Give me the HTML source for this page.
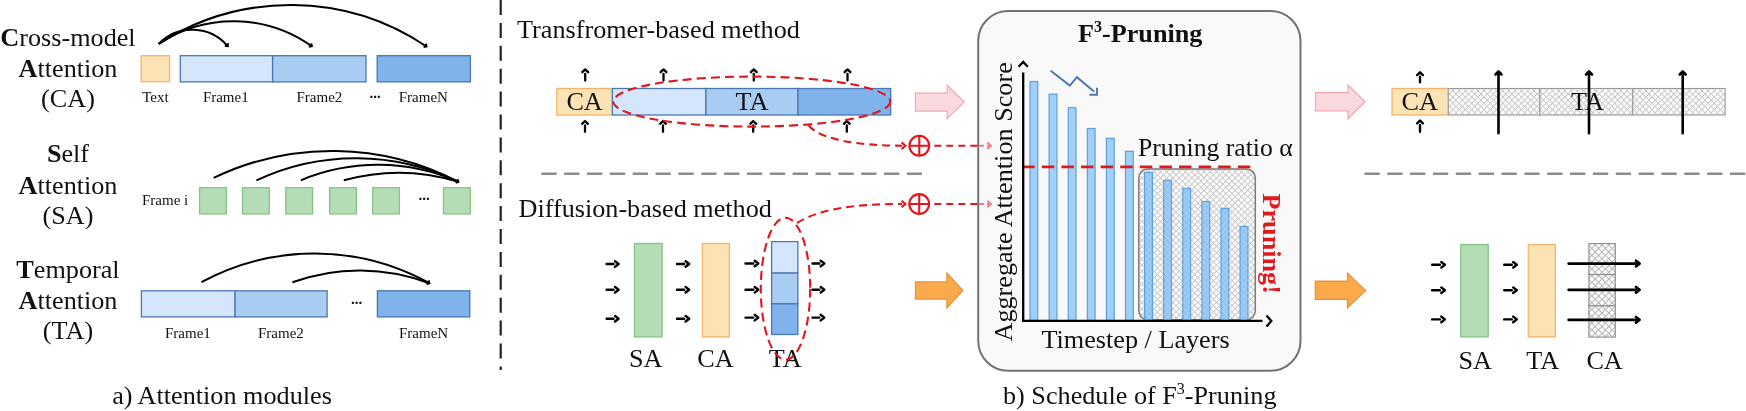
<!DOCTYPE html>
<html><head><meta charset="utf-8">
<style>
html,body{margin:0;padding:0;background:#fff;}
body{width:1746px;height:411px;overflow:hidden;}
svg{display:block;will-change:transform;}
text{font-family:"Liberation Serif","Times New Roman",serif;fill:#111;}
.b{font-weight:bold;}
</style></head><body>
<svg width="1746" height="411" viewBox="0 0 1746 411">
<defs>
<pattern id="hatch" width="4.4" height="4.4" patternUnits="userSpaceOnUse" patternTransform="rotate(45)">
<rect width="4.4" height="4.4" fill="#fdfdfd"/>
<path d="M0 0H4.4M0 0V4.4" stroke="#c6c6c6" stroke-width="1.8"/>
</pattern>
<pattern id="hatch2" width="4.8" height="4.8" patternUnits="userSpaceOnUse" patternTransform="rotate(45)">
<rect width="4.8" height="4.8" fill="#fbfbfb"/>
<path d="M0 0H4.8M0 0V4.8" stroke="#b5b5b5" stroke-width="1.9"/>
</pattern>
<pattern id="hatchT" width="4.4" height="4.4" patternUnits="userSpaceOnUse" patternTransform="rotate(45)">
<rect width="4.4" height="4.4" fill="#fdfdfd"/>
<path d="M0 0H4.4M0 0V4.4" stroke="#c6c6c6" stroke-width="1.9"/>
</pattern>
<pattern id="hatchW" width="4.3" height="4.3" patternUnits="userSpaceOnUse" patternTransform="rotate(45)">
<path d="M0 0H4.3M0 0V4.3" stroke="#ffffff" stroke-opacity="0.22" stroke-width="1.2"/>
</pattern>
<marker id="hk" markerWidth="6" markerHeight="6" refX="3" refY="3" orient="auto" markerUnits="userSpaceOnUse">
<path d="M1 0.5 L3.5 3 L1 5.5" fill="none" stroke="#000" stroke-width="1.6"/>
</marker>
</defs>

<!-- ============ LEFT PANEL ============ -->
<g font-size="26.2" text-anchor="middle">
<text x="68" y="45.6"><tspan class="b">C</tspan>ross-model</text>
<text x="68" y="76.5"><tspan class="b">A</tspan>ttention</text>
<text x="68" y="107.4">(CA)</text>
<text x="68" y="162.4"><tspan class="b">S</tspan>elf</text>
<text x="68" y="194"><tspan class="b">A</tspan>ttention</text>
<text x="68" y="224">(SA)</text>
<text x="68" y="278.2"><tspan class="b">T</tspan>emporal</text>
<text x="68" y="308.8"><tspan class="b">A</tspan>ttention</text>
<text x="68" y="339.3">(TA)</text>
</g>

<!-- CA row -->
<rect x="141.2" y="55.7" width="28.4" height="26" fill="#FCE3B6" stroke="#F2B56A" stroke-width="1.3"/>
<rect x="180.3" y="55.7" width="92.3" height="26.2" fill="#D5E6FA" stroke="#4A77B0" stroke-width="1.3"/>
<rect x="272.6" y="55.7" width="93.4" height="26.2" fill="#A9CCF2" stroke="#4A77B0" stroke-width="1.3"/>
<rect x="377.2" y="55.7" width="93.2" height="26.2" fill="#80B3EC" stroke="#4A77B0" stroke-width="1.3"/>
<g font-size="15" text-anchor="middle">
<text x="155.4" y="101.5">Text</text>
<text x="225.8" y="101.5">Frame1</text>
<text x="319.4" y="101.5">Frame2</text>
<text x="375" y="97.8" class="b">...</text>
<text x="423.3" y="101.5">FrameN</text>
</g>
<g fill="none" stroke="#000" stroke-width="2">
<path d="M158.7 43.9 A46.7 46.7 0 0 1 227.8 46.3"/>
<path d="M228.0 43.3 L227.8 46.3 L224.8 46.1" stroke-width="2"/>
<path d="M158.7 43.9 A134.9 134.9 0 0 1 311.8 46.3"/>
<path d="M311.3 43.3 L311.8 46.3 L308.8 46.8" stroke-width="2"/>
<path d="M158.7 43.9 A243.3 243.3 0 0 1 426.5 46.5"/>
<path d="M425.9 43.6 L426.5 46.5 L423.6 47.1" stroke-width="2"/>
</g>

<!-- SA row -->
<text x="142" y="205.4" font-size="15">Frame i</text>
<g fill="#B5DDB5" stroke="#86C486" stroke-width="1.3">
<rect x="199.6" y="187.7" width="26.8" height="26.2"/>
<rect x="242.5" y="187.7" width="26.8" height="26.2"/>
<rect x="285.8" y="187.7" width="26.8" height="26.2"/>
<rect x="329.6" y="187.7" width="26.8" height="26.2"/>
<rect x="372.6" y="187.7" width="26.8" height="26.2"/>
<rect x="443.5" y="187.7" width="26.8" height="26.2"/>
</g>
<text x="424" y="199.8" font-size="15" text-anchor="middle" class="b">...</text>
<g fill="none" stroke="#000" stroke-width="2">
<path d="M213.6 177.9 A273.5 273.5 0 0 1 458.4 181.8"/>
<path d="M256.4 180.3 A234.2 234.2 0 0 1 458.4 181.8"/>
<path d="M457.4 179.0 L458.4 181.8 L455.6 182.8" stroke-width="2"/>
<path d="M300.8 180.3 A199.8 199.8 0 0 1 458.4 181.8"/>
<path d="M343.8 180.3 A204.8 204.8 0 0 1 458.4 181.8"/>
</g>

<!-- TA row -->
<rect x="141.4" y="290.8" width="93.7" height="26.1" fill="#D5E6FA" stroke="#4A77B0" stroke-width="1.3"/>
<rect x="235.1" y="290.8" width="92" height="26.1" fill="#A9CCF2" stroke="#4A77B0" stroke-width="1.3"/>
<rect x="377.4" y="290.8" width="92.4" height="26.1" fill="#80B3EC" stroke="#4A77B0" stroke-width="1.3"/>
<g font-size="15" text-anchor="middle">
<text x="187.9" y="337.5">Frame1</text>
<text x="280.9" y="337.5">Frame2</text>
<text x="356.5" y="303.5" class="b">...</text>
<text x="423.6" y="337.5">FrameN</text>
</g>
<g fill="none" stroke="#000" stroke-width="2">
<path d="M201.5 282.2 A237.4 237.4 0 0 1 429.4 283.2"/>
<path d="M428.6 280.3 L429.4 283.2 L426.5 284.0" stroke-width="2"/>
<path d="M292.4 282.2 A196.8 196.8 0 0 1 429.4 283.2"/>
</g>

<text x="222" y="404.4" font-size="26.2" text-anchor="middle">a) Attention modules</text>

<line x1="500.7" y1="0" x2="500.7" y2="370" stroke="#222" stroke-width="2.2" stroke-dasharray="15 7.9"/>

<!-- ============ MIDDLE PANEL ============ -->
<text x="517" y="37.5" font-size="26.2">Transfromer-based method</text>
<rect x="556.8" y="88.5" width="55.6" height="26.5" fill="#FCE3B6" stroke="#F2B56A" stroke-width="1.3"/>
<rect x="612.4" y="88.5" width="93.5" height="26.5" fill="#D5E6FA" stroke="#4A77B0" stroke-width="1.3"/>
<rect x="705.9" y="88.5" width="92.1" height="26.5" fill="#A9CCF2" stroke="#4A77B0" stroke-width="1.3"/>
<rect x="798" y="88.5" width="92.7" height="26.5" fill="#80B3EC" stroke="#4A77B0" stroke-width="1.3"/>
<g font-size="26.2" text-anchor="middle">
<text x="584.6" y="109.8">CA</text>
<text x="752" y="110.2">TA</text>
</g>

<!-- Diffusion -->
<line x1="541.3" y1="173.7" x2="922" y2="173.7" stroke="#8c8c8c" stroke-width="2.6" stroke-dasharray="15.3 7.55"/>
<text x="518.5" y="217" font-size="26.2">Diffusion-based method</text>
<rect x="634.5" y="243.5" width="27.7" height="93.4" fill="#B5DDB5" stroke="#86C486" stroke-width="1.3"/>
<rect x="702.4" y="243.5" width="27" height="93.4" fill="#FCE3B6" stroke="#F2B56A" stroke-width="1.3"/>
<rect x="771.6" y="241.6" width="26.3" height="31.5" fill="#D5E6FA" stroke="#4A77B0" stroke-width="1.3"/>
<rect x="771.6" y="273.1" width="26.3" height="30.7" fill="#A9CCF2" stroke="#4A77B0" stroke-width="1.3"/>
<rect x="771.6" y="303.8" width="26.3" height="30.7" fill="#80B3EC" stroke="#4A77B0" stroke-width="1.3"/>
<g font-size="26.2" text-anchor="middle">
<text x="645.7" y="367.3">SA</text>
<text x="715.4" y="367.3">CA</text>
<text x="785.2" y="367.3">TA</text>
</g>

<!-- small up arrows (transformer) -->
<g fill="none" stroke="#000" stroke-width="2.3" stroke-linecap="round" stroke-linejoin="round">
<path d="M582.3 72.2 L585.2 69.4 L588.1 72.2 M585.2 73.8 V80.6"/>
<path d="M582.1 123.8 L585.0 121.0 L587.9 123.8 M585.0 125.4 V131.8"/>
<path d="M660.6 72.2 L663.5 69.4 L666.4 72.2 M663.5 73.8 V80.6"/>
<path d="M660.1 123.8 L663.0 121.0 L665.9 123.8 M663.0 125.4 V131.8"/>
<path d="M750.9 72.2 L753.8 69.4 L756.7 72.2 M753.8 73.8 V80.6"/>
<path d="M750.3 123.8 L753.2 121.0 L756.1 123.8 M753.2 125.4 V131.8"/>
<path d="M844.6 72.2 L847.5 69.4 L850.4 72.2 M847.5 73.8 V80.6"/>
<path d="M843.9 123.8 L846.8 121.0 L849.7 123.8 M846.8 125.4 V131.8"/>
</g>
<!-- small right arrows (diffusion) -->
<g fill="none" stroke="#000" stroke-width="2.4" stroke-linecap="round" stroke-linejoin="round">
<path d="M606.6 264.0 H613.6 M615.0 261.2 L618.6 264.0 L615.0 266.8"/>
<path d="M606.6 289.7 H613.6 M615.0 286.9 L618.6 289.7 L615.0 292.5"/>
<path d="M606.6 318.7 H613.6 M615.0 315.9 L618.6 318.7 L615.0 321.5"/>
<path d="M677.0 264.0 H684.2 M685.6 261.2 L689.2 264.0 L685.6 266.8"/>
<path d="M677.0 289.7 H684.2 M685.6 286.9 L689.2 289.7 L685.6 292.5"/>
<path d="M677.0 318.7 H684.2 M685.6 315.9 L689.2 318.7 L685.6 321.5"/>
<path d="M745.5 263.5 H753.3 M754.7 260.7 L758.3 263.5 L754.7 266.3"/>
<path d="M745.5 289.8 H753.3 M754.7 287.0 L758.3 289.8 L754.7 292.6"/>
<path d="M745.5 317.6 H753.3 M754.7 314.8 L758.3 317.6 L754.7 320.4"/>
<path d="M812.5 263.5 H819.3 M820.7 260.7 L824.3 263.5 L820.7 266.3"/>
<path d="M812.5 289.8 H819.3 M820.7 287.0 L824.3 289.8 L820.7 292.6"/>
<path d="M812.5 317.6 H819.3 M820.7 314.8 L824.3 317.6 L820.7 320.4"/>
</g>
<!-- red dashed ellipses and connectors -->
<g fill="none" stroke="#E3151D" stroke-width="2.1">
<ellipse cx="751.8" cy="101.6" rx="138.5" ry="25" stroke-dasharray="9 5"/>
<ellipse cx="785.5" cy="288.7" rx="24.7" ry="71" stroke-dasharray="9 5"/>
<path d="M808.6 125.3 C820 140 860 145.7 902 145.7" stroke-dasharray="8 5"/>
<path d="M901.6 142.4 L905.3 145.7 L901.6 149" stroke-width="2.2"/>
<path d="M797 223 C820 208 860 204 902 204" stroke-dasharray="8 5"/>
<path d="M901.6 200.7 L905.3 204 L901.6 207.3" stroke-width="2.2"/>
<circle cx="919.3" cy="145.7" r="9.9"/>
<path d="M919.3 135.8 V155.6 M909.4 145.7 H929.2"/>
<circle cx="919.2" cy="204" r="9.9"/>
<path d="M919.2 194.1 V213.9 M909.3 204 H929.1"/>
<path d="M934.3 145.7 H978" stroke-dasharray="7 5"/>
<path d="M934.3 204 H978" stroke-dasharray="7 5"/>
</g>
<!-- arrows -->
<path d="M915.4 93.2 H947.2 V85.2 L964.3 102.1 L947.2 118.7 V111.1 H915.4 Z" fill="#FAD9DF" stroke="#F2A7B6" stroke-width="1.2"/>
<path d="M915.5 281.9 H946.9 V273.1 L963 290.5 L946.9 307.9 V299.1 H915.5 Z" fill="#FBAA4B" stroke="#E8913A" stroke-width="1.2"/>

<!-- ============ F3 BOX ============ -->
<rect x="978.2" y="11" width="322.3" height="359.8" rx="30" ry="30" fill="#F9F9F9" stroke="#727272" stroke-width="2"/>
<g fill="none" stroke="#EE7F84" stroke-width="1.9">
<path d="M979 145.7 H989" stroke-dasharray="5 3"/>
<path d="M987.3 142.4 L991 145.7 L987.3 149"/>
<path d="M979 204 H989" stroke-dasharray="5 3"/>
<path d="M987.3 200.7 L991 204 L987.3 207.3"/>
</g>
<text x="1078" y="42" font-size="26.2" class="b">F<tspan font-size="16" dy="-10">3</tspan><tspan dy="10">-Pruning</tspan></text>
<g fill="#A2CFF5" stroke="#5CA0E0" stroke-width="1.2">
<rect x="1030.0" y="81.5" width="7.8" height="239.0"/>
<rect x="1049.1" y="94.1" width="7.8" height="226.4"/>
<rect x="1068.2" y="107.7" width="7.8" height="212.8"/>
<rect x="1087.3" y="128.5" width="7.8" height="192.0"/>
<rect x="1106.4" y="138.3" width="7.8" height="182.2"/>
<rect x="1125.5" y="151.3" width="7.8" height="169.2"/>
</g>
<rect x="1138.8" y="169" width="116.5" height="150.8" rx="9" ry="9" fill="url(#hatchT)" stroke="#7a7a7a" stroke-width="1.5"/>
<g fill="#92C5F2" stroke="#5A9EE0" stroke-width="1.2">
<rect x="1144.6" y="172.3" width="7.8" height="148.2"/>
<rect x="1163.7" y="180.3" width="7.8" height="140.2"/>
<rect x="1182.8" y="188.4" width="7.8" height="132.1"/>
<rect x="1201.9" y="201.5" width="7.8" height="119.0"/>
<rect x="1221.0" y="208.4" width="7.8" height="112.1"/>
<rect x="1240.1" y="226.4" width="7.8" height="94.1"/>
</g>
<g fill="url(#hatchW)" stroke="none">
<rect x="1144.6" y="172.3" width="7.8" height="148.2"/>
<rect x="1163.7" y="180.3" width="7.8" height="140.2"/>
<rect x="1182.8" y="188.4" width="7.8" height="132.1"/>
<rect x="1201.9" y="201.5" width="7.8" height="119.0"/>
<rect x="1221.0" y="208.4" width="7.8" height="112.1"/>
<rect x="1240.1" y="226.4" width="7.8" height="94.1"/>
</g>
<line x1="1022.2" y1="166.9" x2="1252" y2="166.9" stroke="#E0191F" stroke-width="2.7" stroke-dasharray="12.5 7.1"/>
<g fill="none" stroke="#000" stroke-width="2.3">
<path d="M1023.2 72.5 V320.8 H1262.5"/>
<path d="M1018.6 66.8 L1023.2 62 L1027.8 66.8"/>
<path d="M1266.5 315.6 L1271.3 321 L1266.5 326.4"/>
</g>
<g fill="none" stroke="#4A78B0" stroke-width="1.9">
<path d="M1050.7 70.8 L1069.8 85.6 L1076.9 77.2 L1094 91.5"/>
<path d="M1097 87.7 V94.8 H1089.4"/>
</g>
<text x="1138" y="156" font-size="25.7">Pruning ratio α</text>
<text transform="translate(1011.5,341.5) rotate(-90)" font-size="26.2">Aggregate Attention Score</text>
<text transform="translate(1263,193.5) rotate(90)" font-size="26.2" class="b" style="fill:#E0191F">Pruning!</text>
<text x="1041.5" y="348" font-size="26.2">Timestep / Layers</text>
<text x="1003" y="404" font-size="26.2">b) Schedule of F<tspan font-size="16" dy="-10">3</tspan><tspan dy="10">-Pruning</tspan></text>

<!-- ============ RIGHT PANEL ============ -->
<path d="M1315.5 92.6 H1348 V85 L1365.1 101.8 L1348 118.7 V110.8 H1315.5 Z" fill="#FAD9DF" stroke="#F2A7B6" stroke-width="1.2"/>
<path d="M1315.3 281.1 H1347.5 V273.1 L1365.7 290.4 L1347.5 307.8 V299.4 H1315.3 Z" fill="#FBAA4B" stroke="#E8913A" stroke-width="1.2"/>
<rect x="1392" y="88.5" width="56.3" height="26.5" fill="#FCE3B6" stroke="#F2B56A" stroke-width="1.3"/>
<rect x="1448.3" y="88.5" width="91.6" height="26.5" fill="url(#hatch)" stroke="#9a9a9a" stroke-width="1.1"/>
<rect x="1539.9" y="88.5" width="92.9" height="26.5" fill="url(#hatch)" stroke="#9a9a9a" stroke-width="1.1"/>
<rect x="1632.8" y="88.5" width="92.3" height="26.5" fill="url(#hatch)" stroke="#9a9a9a" stroke-width="1.1"/>
<g font-size="26.2" text-anchor="middle">
<text x="1419.8" y="109.8">CA</text>
<text x="1587.5" y="109.8">TA</text>
</g>
<g fill="none" stroke="#000" stroke-width="2.4" stroke-linecap="round" stroke-linejoin="round">
<path d="M1417.1 75.1 L1420.0 72.3 L1422.9 75.1 M1420.0 76.7 V82.2"/>
<path d="M1417.1 123.3 L1420.0 120.5 L1422.9 123.3 M1420.0 124.9 V131.8"/>
<path d="M1495.5 74.5 L1498.5 71.5 L1501.5 74.5 M1498.5 73.0 V133.3" stroke-width="2.6"/>
<path d="M1586.0 74.5 L1589.0 71.5 L1592.0 74.5 M1589.0 73.0 V133.3" stroke-width="2.6"/>
<path d="M1679.7 74.5 L1682.7 71.5 L1685.7 74.5 M1682.7 73.0 V133.3" stroke-width="2.6"/>
</g>
<line x1="1364.4" y1="173.7" x2="1746" y2="173.7" stroke="#8c8c8c" stroke-width="2.6" stroke-dasharray="15.3 7.55"/>
<rect x="1460.8" y="244.6" width="27.4" height="92.3" fill="#B5DDB5" stroke="#86C486" stroke-width="1.3"/>
<rect x="1528.3" y="244.6" width="27" height="92.3" fill="#FCE3B6" stroke="#F2B56A" stroke-width="1.3"/>
<rect x="1588.9" y="243.6" width="26.4" height="31" fill="url(#hatch2)" stroke="#8a8a8a" stroke-width="1.1"/>
<rect x="1588.9" y="274.6" width="26.4" height="31.3" fill="url(#hatch2)" stroke="#8a8a8a" stroke-width="1.1"/>
<rect x="1588.9" y="305.9" width="26.4" height="31.2" fill="url(#hatch2)" stroke="#8a8a8a" stroke-width="1.1"/>
<g fill="none" stroke="#000" stroke-width="2.4" stroke-linecap="round" stroke-linejoin="round">
<path d="M1432.1 264.8 H1439.9 M1441.3 262.0 L1444.9 264.8 L1441.3 267.6"/>
<path d="M1432.1 290.2 H1439.9 M1441.3 287.4 L1444.9 290.2 L1441.3 293.0"/>
<path d="M1432.1 319.4 H1439.9 M1441.3 316.6 L1444.9 319.4 L1441.3 322.2"/>
<path d="M1504.2 264.8 H1511.8 M1513.2 262.0 L1516.8 264.8 L1513.2 267.6"/>
<path d="M1504.2 290.2 H1511.8 M1513.2 287.4 L1516.8 290.2 L1513.2 293.0"/>
<path d="M1504.2 319.4 H1511.8 M1513.2 316.6 L1516.8 319.4 L1513.2 322.2"/>
<path d="M1568.6 263.6 H1638.4 M1636.0 260.8 L1639.6 263.6 L1636.0 266.4" stroke-width="2.7"/>
<path d="M1568.6 289.8 H1638.4 M1636.0 287.0 L1639.6 289.8 L1636.0 292.6" stroke-width="2.7"/>
<path d="M1568.6 319.8 H1638.4 M1636.0 317.0 L1639.6 319.8 L1636.0 322.6" stroke-width="2.7"/>
</g>
<g font-size="26.2" text-anchor="middle">
<text x="1475.2" y="368.7">SA</text>
<text x="1542.7" y="368.7">TA</text>
<text x="1604.6" y="368.7">CA</text>
</g>

</svg>
</body></html>
